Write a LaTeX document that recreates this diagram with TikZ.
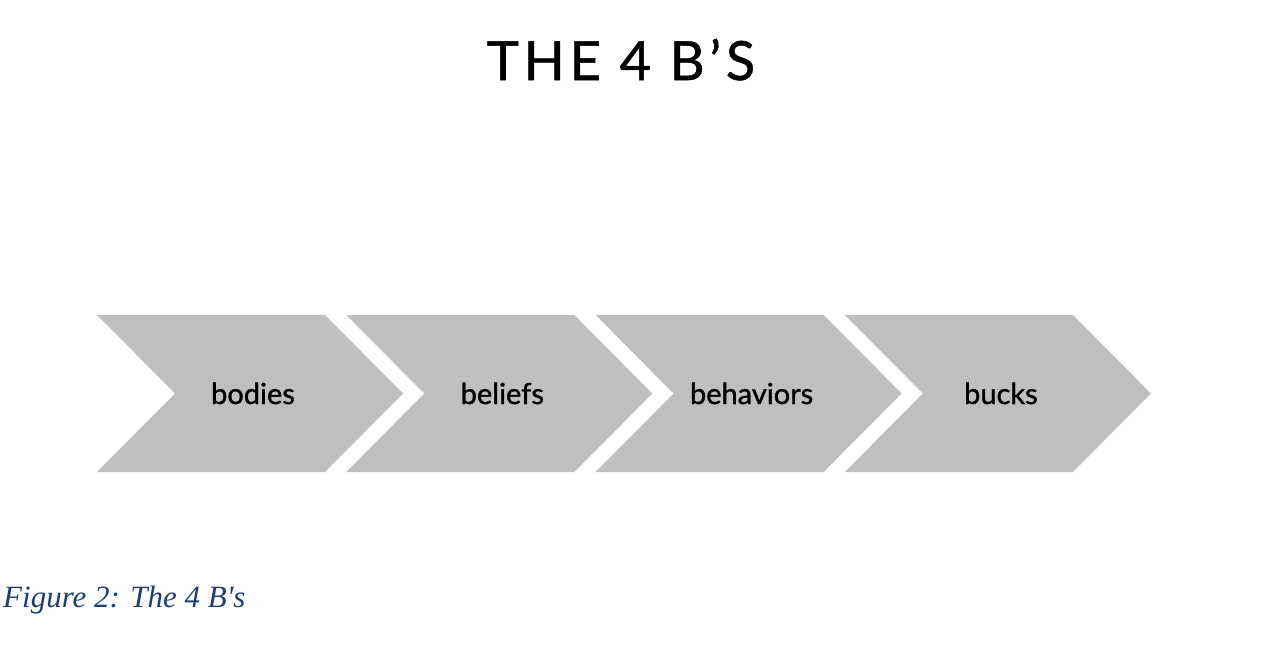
\documentclass[tikz,border=0pt]{standalone}
\usepackage{fontspec}
\setmainfont{Liberation Serif}
\newfontfamily\labelfont[FakeBold=1.2]{Lato}
\newfontfamily\titlefont[LetterSpace=9,FakeBold=1]{Lato}
\newfontfamily\captionfont[Ligatures=TeXOff]{Liberation Serif}
\definecolor{chevgray}{HTML}{BFBFBF}
\definecolor{capblue}{HTML}{1F3F73}
\begin{document}
\begin{tikzpicture}[x=1pt,y=-1pt,
  chev/.style={fill=chevgray,draw=none},
  lbl/.style={font=\labelfont\fontsize{29}{32}\selectfont,anchor=base,inner sep=0pt},
  ttl/.style={font=\titlefont\fontsize{54}{60}\selectfont,anchor=base,inner sep=0pt},
  captext/.style={font=\captionfont\itshape\fontsize{31}{36}\selectfont,text=capblue,anchor=base west,inner sep=0pt}]
\useasboundingbox (0,0) rectangle (1280,659);
\fill[white] (0,0) rectangle (1280,659);
\node[ttl] (title) at (621,80) {THE 4 B’S};
\foreach \i/\t/\n in {0/bodies/c1,1/beliefs/c2,2/behaviors/c3,3/bucks/c4}{
  \pgfmathsetmacro{\L}{97+249.3*\i}
  \fill[chev] (\L,315) -- (\L+228,315) -- (\L+306,393.5) -- (\L+228,472) -- (\L,472) -- (\L+78,393.5) -- cycle;
  \node[lbl] (\n) at (\L+156,404) {\t};
}
\node[captext] (caption) at (3,607) {Figure 2: The 4 B's};
\end{tikzpicture}
\end{document}
